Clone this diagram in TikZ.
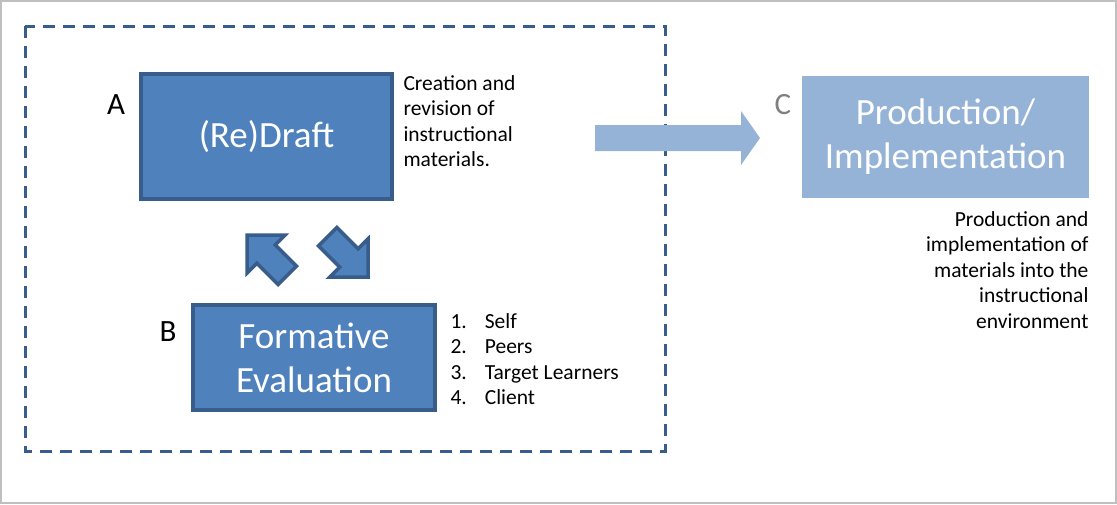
\documentclass[tikz,border=0pt]{standalone}
\usepackage{fontspec}
\setmainfont{Carlito}
\definecolor{bfill}{HTML}{4F81BD}
\definecolor{bline}{HTML}{385D8A}
\definecolor{lfill}{HTML}{95B3D7}
\begin{document}
\begin{tikzpicture}[x=1pt,y=-1pt,
  box/.style={draw=bline,line width=3.5pt,fill=bfill,text=white,font=\fontsize{37}{44}\selectfont,align=center},
  lbl/.style={font=\fontsize{31}{34}\selectfont},
  small/.style={font=\fontsize{21.5}{25.5}\selectfont,align=left},
  barrow/.style={draw=bline,line width=3.5pt,fill=bfill,line join=miter}]
\useasboundingbox (0,0) rectangle (1117,504);
\draw[gray!50,line width=2pt] (1,1) rectangle (1116,503);
\draw[bline,line width=3pt,dash pattern=on 12pt off 8pt] (25,26) rectangle (665,451);
\node[box,minimum width=251,minimum height=125] (draft) at (266.5,136.5) {(Re)Draft};
\node[box,minimum width=242,minimum height=105] (form) at (314,357.5) {Formative\\Evaluation};
\node[fill=lfill,text=white,minimum width=287,minimum height=122,align=center,font=\fontsize{37}{44}\selectfont] (prod) at (945.5,137) {Production/\\Implementation};
\node[lbl] (A) at (116,105) {A};
\node[lbl] (B) at (168,332) {B};
\node[lbl,text=gray] (C) at (783,105) {C};
\node[small,anchor=north west] (t1) at (400,72) {Creation and\\revision of\\instructional\\materials.};
\node[small,anchor=north east,align=right] (t2) at (1092,208) {Production and\\implementation of\\materials into the\\instructional\\environment};
\node[small,anchor=north west] (t3) at (447,310) {1.\hspace{18pt}Self\\2.\hspace{18pt}Peers\\3.\hspace{18pt}Target Learners\\4.\hspace{18pt}Client};
% block arrows
\draw[barrow,shift={(247,235)},rotate=135]
  (0,0) -- (-27,27) -- (-27,13) -- (-57,13) -- (-57,-13) -- (-27,-13) -- (-27,-27) -- cycle;
\draw[barrow,shift={(368,277)},rotate=-45]
  (0,0) -- (-27,27) -- (-27,13) -- (-57,13) -- (-57,-13) -- (-27,-13) -- (-27,-27) -- cycle;
\fill[lfill] (595,125) -- (741,125) -- (741,111) -- (760,138) -- (741,165) -- (741,151) -- (595,151) -- cycle;
\end{tikzpicture}
\end{document}
